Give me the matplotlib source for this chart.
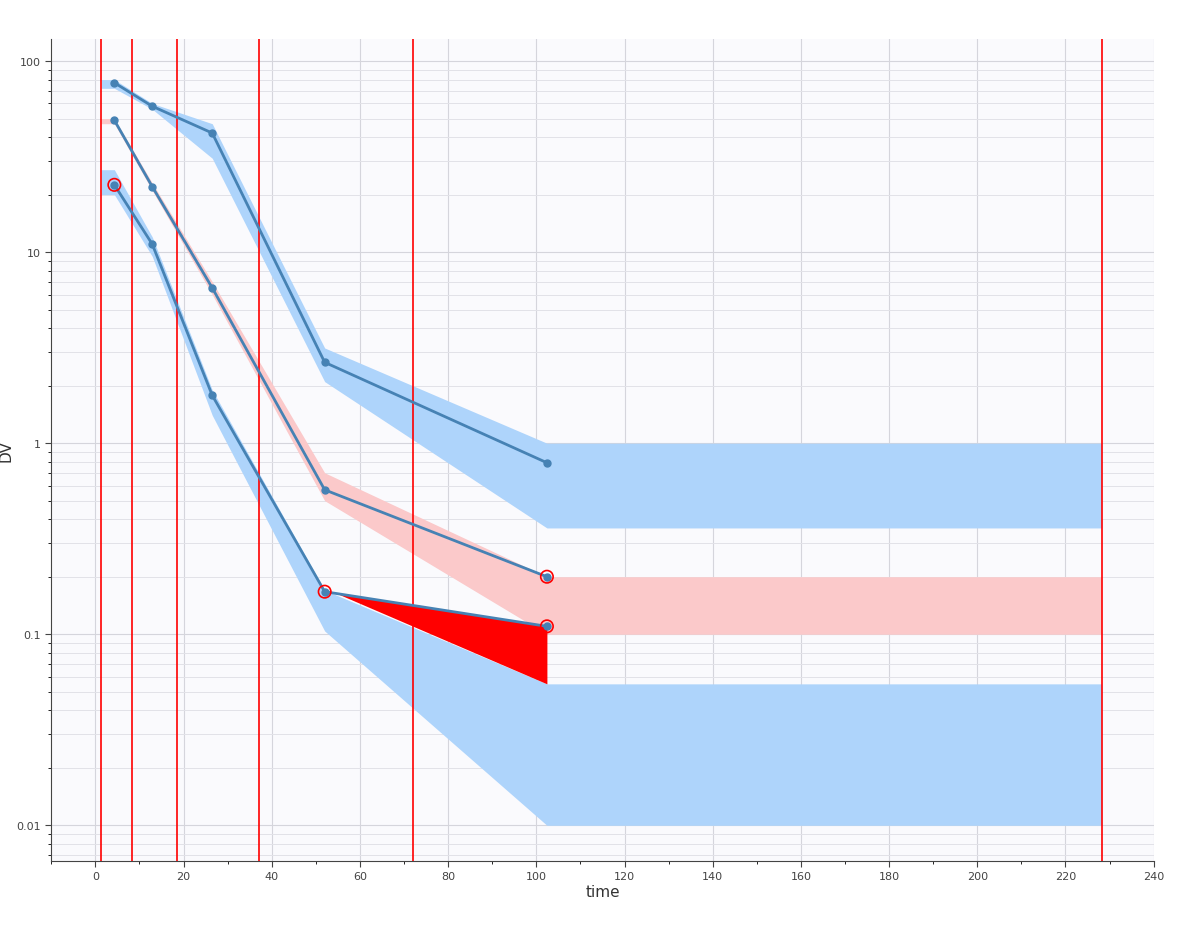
import numpy as np
import matplotlib.pyplot as plt
from matplotlib.ticker import LogLocator, NullFormatter, FixedFormatter, FixedLocator

# Bin boundaries and midpoints
bin_edges = [1.36, 8.2, 18.6, 37.2, 72.1, 228.2]
bin_mid = [4.3, 12.9, 26.5, 52.0, 102.4]

# Observed percentiles
obs_hi = [77, 58, 42, 2.65, 0.79]
obs_med = [49, 22, 6.5, 0.57, 0.2]
obs_lo = [22.5, 11, 1.78, 0.167, 0.11]

# Simulated confidence bands (low, high)
ci_hi_lo = [72, 56, 31, 2.1, 0.36]
ci_hi_hi = [80, 60, 47, 3.15, 1.0]
ci_med_lo = [47, 21, 6.0, 0.5, 0.1]
ci_med_hi = [50, 23, 7.0, 0.7, 0.2]
ci_lo_lo = [20, 9.5, 1.4, 0.104, 0.01]
ci_lo_hi = [27, 12, 1.9, 0.17, 0.055]

# Points flagged outside their band
out_x = [4.3, 52.0, 102.4, 102.4]
out_y = [22.5, 0.167, 0.2, 0.11]

fig, ax = plt.subplots(figsize=(11.93, 9.37), dpi=100)
fig.subplots_adjust(left=0.043, right=0.967, top=0.957, bottom=0.08)
ax.set_facecolor('#fafafd')

bx = [bin_edges[0]] + bin_mid + [bin_edges[-1]]
def ext(v):
    return [v[0]] + list(v) + [v[-1]]

blue = '#aed4fb'
pink = '#fbc9ca'
ax.fill_between(bx, ext(ci_hi_lo), ext(ci_hi_hi), color=blue, lw=0, zorder=2)
ax.fill_between(bx, ext(ci_med_lo), ext(ci_med_hi), color=pink, lw=0, zorder=2)
ax.fill_between(bx, ext(ci_lo_lo), ext(ci_lo_hi), color=blue, lw=0, zorder=2)

# Red area where the observed low percentile leaves its band
ax.fill_between(bin_mid, ci_lo_hi, obs_lo, where=np.array(obs_lo) >= np.array(ci_lo_hi),
                interpolate=True, color='red', lw=0, zorder=3)

for ys in (obs_hi, obs_med, obs_lo):
    ax.plot(bin_mid, ys, color='#4682b4', lw=2, marker='o', ms=5, zorder=4)
ax.scatter(out_x, out_y, s=80, facecolors='none', edgecolors='red', lw=1.2, zorder=5)

for e in bin_edges:
    ax.axvline(e, color='red', lw=1.2, zorder=3)

ax.set_yscale('log')
ax.set_xlim(-10, 240)
ax.set_ylim(0.0065, 130)
ax.yaxis.set_major_locator(FixedLocator([0.01, 0.1, 1, 10, 100]))
ax.yaxis.set_major_formatter(FixedFormatter(['0.01', '0.1', '1', '10', '100']))
ax.yaxis.set_minor_locator(LogLocator(subs=np.arange(2, 10)))
ax.yaxis.set_minor_formatter(NullFormatter())
ax.set_xticks(np.arange(0, 241, 20))
ax.set_xticks(np.arange(-10, 241, 10), minor=True)
ax.grid(True, which='major', color='#d5d5dc', lw=0.8, zorder=1)
ax.grid(True, which='minor', axis='y', color='#e2e2e8', lw=0.7, zorder=1)
ax.set_axisbelow(True)
for s in ['top', 'right']:
    ax.spines[s].set_visible(False)
for s in ['left', 'bottom']:
    ax.spines[s].set_color('#444444')
ax.tick_params(labelsize=8, colors='#444444', length=4)
ax.tick_params(which='minor', length=2)
ax.set_xlabel('time', fontsize=11, color='#333333', labelpad=2)
ax.set_ylabel('DV', fontsize=11, color='#333333', labelpad=2)

fig.savefig('out.png', dpi=100)
